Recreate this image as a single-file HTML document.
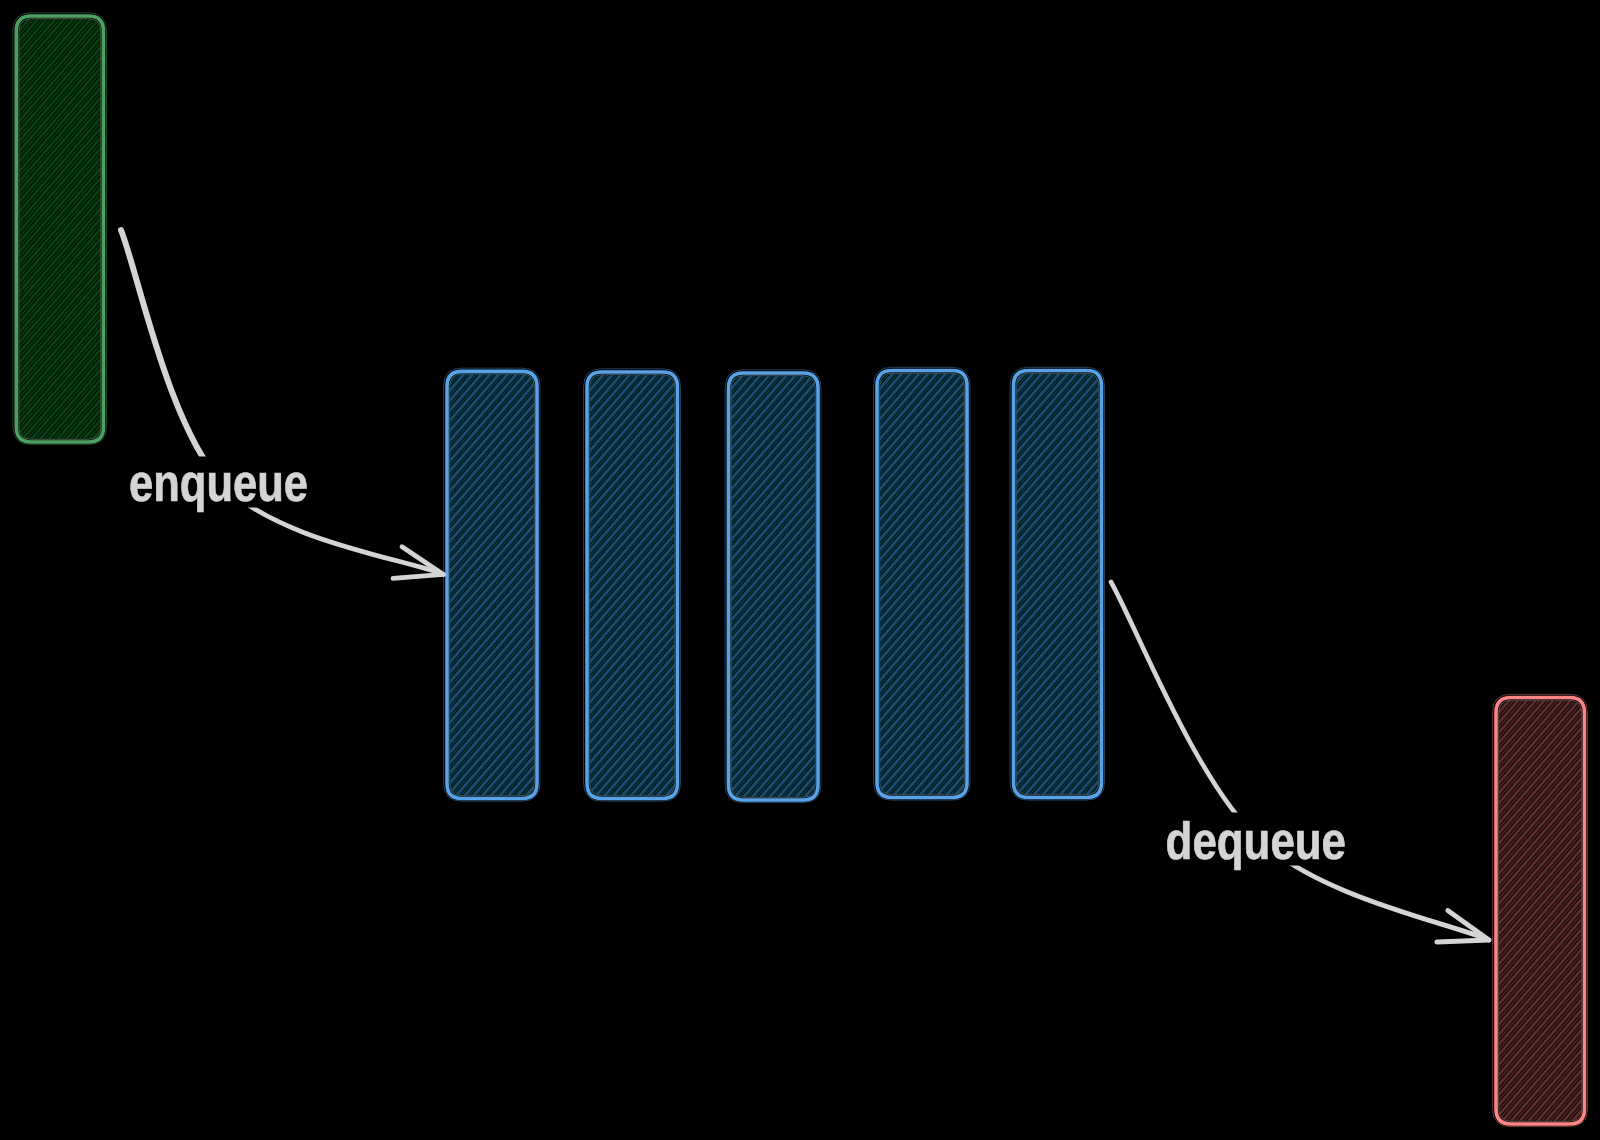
<!DOCTYPE html>
<html><head><meta charset="utf-8"><title>Queue</title>
<style>
html,body{margin:0;padding:0;background:#000;width:1600px;height:1140px;overflow:hidden;}
svg{display:block;font-family:"Liberation Sans", sans-serif;}
svg{will-change:transform;}
</style></head>
<body>
<svg width="1600" height="1140" viewBox="0 0 1600 1140">
<defs>
<pattern id="hg" width="20" height="6.6" patternUnits="userSpaceOnUse" patternTransform="rotate(-49)"><rect x="0" y="0" width="20" height="3.2" fill="#0a3e16"/><rect x="0" y="4.40" width="20" height="1.0" fill="#06700c"/></pattern>
<pattern id="hb" width="20" height="6.6" patternUnits="userSpaceOnUse" patternTransform="rotate(-49)"><rect x="0" y="0" width="20" height="3.4" fill="#1c4b6e"/><rect x="0" y="4.50" width="20" height="1.0" fill="#005f6e"/></pattern>
<pattern id="hr" width="20" height="6.6" patternUnits="userSpaceOnUse" patternTransform="rotate(-49)"><rect x="0" y="0" width="20" height="3.0" fill="#5f2d2d"/><rect x="0" y="4.20" width="20" height="1.2" fill="#6e3434"/></pattern>
</defs>
<path d="M31.3 19.2L88.5 19.2Q100.3 19.2 100.3 31.0L100.3 427.0Q100.3 438.8 88.5 438.8L31.3 438.8Q19.5 438.8 19.5 427.0L19.5 31.0Q19.5 19.2 31.3 19.2Z" fill="url(#hg)"/>
<path d="M31.3 16.0L88.5 16.0Q103.5 16.0 103.5 31.0L103.5 427.0Q103.5 442.0 88.5 442.0L31.3 442.0Q16.3 442.0 16.3 427.0L16.3 31.0Q16.3 16.0 31.3 16.0Z" fill="none" stroke="#4ea061" stroke-width="3.6"/>
<path d="M31.3 18.7L88.5 18.7Q100.8 18.7 100.8 31.0L100.8 427.0Q100.8 439.3 88.5 439.3L31.3 439.3Q19.0 439.3 19.0 427.0L19.0 31.0Q19.0 18.7 31.3 18.7Z" fill="none" stroke="#c8ffc8" stroke-width="1.0" stroke-opacity="0.35"/>
<path d="M30.9 12.8L88.5 12.8Q106.5 12.8 106.5 30.8L106.5 426.6Q106.5 444.6 88.5 444.6L30.9 444.6Q12.9 444.6 12.9 426.6L12.9 30.8Q12.9 12.8 30.9 12.8Z" fill="none" stroke="#4ea061" stroke-width="1.0" stroke-opacity="0.4"/>
<path d="M462.0 374.6L522.0 374.6Q533.8 374.6 533.8 386.4L533.8 783.5Q533.8 795.3 522.0 795.3L462.0 795.3Q450.2 795.3 450.2 783.5L450.2 386.4Q450.2 374.6 462.0 374.6Z" fill="url(#hb)"/>
<path d="M462.0 371.4L522.0 371.4Q537.0 371.4 537.0 386.4L537.0 783.5Q537.0 798.5 522.0 798.5L462.0 798.5Q447.0 798.5 447.0 783.5L447.0 386.4Q447.0 371.4 462.0 371.4Z" fill="none" stroke="#58a2e8" stroke-width="3.6"/>
<path d="M462.0 374.1L522.0 374.1Q534.3 374.1 534.3 386.4L534.3 783.5Q534.3 795.8 522.0 795.8L462.0 795.8Q449.7 795.8 449.7 783.5L449.7 386.4Q449.7 374.1 462.0 374.1Z" fill="none" stroke="#b0f0ff" stroke-width="1.0" stroke-opacity="0.35"/>
<path d="M461.6 368.2L522.0 368.2Q540.0 368.2 540.0 386.2L540.0 783.1Q540.0 801.1 522.0 801.1L461.6 801.1Q443.6 801.1 443.6 783.1L443.6 386.2Q443.6 368.2 461.6 368.2Z" fill="none" stroke="#58a2e8" stroke-width="1.0" stroke-opacity="0.4"/>
<path d="M602.0 375.2L662.5 375.2Q674.3 375.2 674.3 387.0L674.3 783.5Q674.3 795.3 662.5 795.3L602.0 795.3Q590.2 795.3 590.2 783.5L590.2 387.0Q590.2 375.2 602.0 375.2Z" fill="url(#hb)"/>
<path d="M602.0 372.0L662.5 372.0Q677.5 372.0 677.5 387.0L677.5 783.5Q677.5 798.5 662.5 798.5L602.0 798.5Q587.0 798.5 587.0 783.5L587.0 387.0Q587.0 372.0 602.0 372.0Z" fill="none" stroke="#58a2e8" stroke-width="3.6"/>
<path d="M602.0 374.7L662.5 374.7Q674.8 374.7 674.8 387.0L674.8 783.5Q674.8 795.8 662.5 795.8L602.0 795.8Q589.7 795.8 589.7 783.5L589.7 387.0Q589.7 374.7 602.0 374.7Z" fill="none" stroke="#b0f0ff" stroke-width="1.0" stroke-opacity="0.35"/>
<path d="M601.6 368.8L662.5 368.8Q680.5 368.8 680.5 386.8L680.5 783.1Q680.5 801.1 662.5 801.1L601.6 801.1Q583.6 801.1 583.6 783.1L583.6 386.8Q583.6 368.8 601.6 368.8Z" fill="none" stroke="#58a2e8" stroke-width="1.0" stroke-opacity="0.4"/>
<path d="M743.5 376.2L803.0 376.2Q814.8 376.2 814.8 388.0L814.8 785.0Q814.8 796.8 803.0 796.8L743.5 796.8Q731.7 796.8 731.7 785.0L731.7 388.0Q731.7 376.2 743.5 376.2Z" fill="url(#hb)"/>
<path d="M743.5 373.0L803.0 373.0Q818.0 373.0 818.0 388.0L818.0 785.0Q818.0 800.0 803.0 800.0L743.5 800.0Q728.5 800.0 728.5 785.0L728.5 388.0Q728.5 373.0 743.5 373.0Z" fill="none" stroke="#58a2e8" stroke-width="3.6"/>
<path d="M743.5 375.7L803.0 375.7Q815.3 375.7 815.3 388.0L815.3 785.0Q815.3 797.3 803.0 797.3L743.5 797.3Q731.2 797.3 731.2 785.0L731.2 388.0Q731.2 375.7 743.5 375.7Z" fill="none" stroke="#b0f0ff" stroke-width="1.0" stroke-opacity="0.35"/>
<path d="M743.1 369.8L803.0 369.8Q821.0 369.8 821.0 387.8L821.0 784.6Q821.0 802.6 803.0 802.6L743.1 802.6Q725.1 802.6 725.1 784.6L725.1 387.8Q725.1 369.8 743.1 369.8Z" fill="none" stroke="#58a2e8" stroke-width="1.0" stroke-opacity="0.4"/>
<path d="M892.0 373.7L952.0 373.7Q963.8 373.7 963.8 385.5L963.8 782.5Q963.8 794.3 952.0 794.3L892.0 794.3Q880.2 794.3 880.2 782.5L880.2 385.5Q880.2 373.7 892.0 373.7Z" fill="url(#hb)"/>
<path d="M892.0 370.5L952.0 370.5Q967.0 370.5 967.0 385.5L967.0 782.5Q967.0 797.5 952.0 797.5L892.0 797.5Q877.0 797.5 877.0 782.5L877.0 385.5Q877.0 370.5 892.0 370.5Z" fill="none" stroke="#58a2e8" stroke-width="3.6"/>
<path d="M892.0 373.2L952.0 373.2Q964.3 373.2 964.3 385.5L964.3 782.5Q964.3 794.8 952.0 794.8L892.0 794.8Q879.7 794.8 879.7 782.5L879.7 385.5Q879.7 373.2 892.0 373.2Z" fill="none" stroke="#b0f0ff" stroke-width="1.0" stroke-opacity="0.35"/>
<path d="M891.6 367.3L952.0 367.3Q970.0 367.3 970.0 385.3L970.0 782.1Q970.0 800.1 952.0 800.1L891.6 800.1Q873.6 800.1 873.6 782.1L873.6 385.3Q873.6 367.3 891.6 367.3Z" fill="none" stroke="#58a2e8" stroke-width="1.0" stroke-opacity="0.4"/>
<path d="M1028.5 373.7L1086.5 373.7Q1098.3 373.7 1098.3 385.5L1098.3 782.5Q1098.3 794.3 1086.5 794.3L1028.5 794.3Q1016.7 794.3 1016.7 782.5L1016.7 385.5Q1016.7 373.7 1028.5 373.7Z" fill="url(#hb)"/>
<path d="M1028.5 370.5L1086.5 370.5Q1101.5 370.5 1101.5 385.5L1101.5 782.5Q1101.5 797.5 1086.5 797.5L1028.5 797.5Q1013.5 797.5 1013.5 782.5L1013.5 385.5Q1013.5 370.5 1028.5 370.5Z" fill="none" stroke="#58a2e8" stroke-width="3.6"/>
<path d="M1028.5 373.2L1086.5 373.2Q1098.8 373.2 1098.8 385.5L1098.8 782.5Q1098.8 794.8 1086.5 794.8L1028.5 794.8Q1016.2 794.8 1016.2 782.5L1016.2 385.5Q1016.2 373.2 1028.5 373.2Z" fill="none" stroke="#b0f0ff" stroke-width="1.0" stroke-opacity="0.35"/>
<path d="M1028.1 367.3L1086.5 367.3Q1104.5 367.3 1104.5 385.3L1104.5 782.1Q1104.5 800.1 1086.5 800.1L1028.1 800.1Q1010.1 800.1 1010.1 782.1L1010.1 385.3Q1010.1 367.3 1028.1 367.3Z" fill="none" stroke="#58a2e8" stroke-width="1.0" stroke-opacity="0.4"/>
<path d="M1511.0 700.7L1569.5 700.7Q1581.3 700.7 1581.3 712.5L1581.3 1109.0Q1581.3 1120.8 1569.5 1120.8L1511.0 1120.8Q1499.2 1120.8 1499.2 1109.0L1499.2 712.5Q1499.2 700.7 1511.0 700.7Z" fill="url(#hr)"/>
<path d="M1511.0 697.5L1569.5 697.5Q1584.5 697.5 1584.5 712.5L1584.5 1109.0Q1584.5 1124.0 1569.5 1124.0L1511.0 1124.0Q1496.0 1124.0 1496.0 1109.0L1496.0 712.5Q1496.0 697.5 1511.0 697.5Z" fill="none" stroke="#fb8585" stroke-width="3.6"/>
<path d="M1511.0 700.2L1569.5 700.2Q1581.8 700.2 1581.8 712.5L1581.8 1109.0Q1581.8 1121.3 1569.5 1121.3L1511.0 1121.3Q1498.7 1121.3 1498.7 1109.0L1498.7 712.5Q1498.7 700.2 1511.0 700.2Z" fill="none" stroke="#ffd0d0" stroke-width="1.0" stroke-opacity="0.35"/>
<path d="M1510.6 694.3L1569.5 694.3Q1587.5 694.3 1587.5 712.3L1587.5 1108.6Q1587.5 1126.6 1569.5 1126.6L1510.6 1126.6Q1492.6 1126.6 1492.6 1108.6L1492.6 712.3Q1492.6 694.3 1510.6 694.3Z" fill="none" stroke="#fb8585" stroke-width="1.0" stroke-opacity="0.4"/>
<path d="M121.0 230.0C137.8 272.2 168.4 425.9 222.1 483.3" fill="none" stroke="#d4d4d6" stroke-width="6.0" stroke-linecap="round"/>
<path d="M222.1 483.3C275.8 540.7 406.5 559.2 443.4 574.4" fill="none" stroke="#d4d4d6" stroke-width="4.8" stroke-linecap="round"/>
<rect x="124" y="456.5" width="192" height="51" fill="#000"/>
<path d="M1111.0 582.0C1135.4 624.7 1194.6 778.6 1257.6 838.3" fill="none" stroke="#d4d4d6" stroke-width="4.6" stroke-linecap="round"/>
<path d="M1257.6 838.3C1320.6 898.0 1450.4 923.0 1489.0 940.0" fill="none" stroke="#d4d4d6" stroke-width="4.8" stroke-linecap="round"/>
<rect x="1160" y="812.5" width="194" height="53" fill="#000"/>
<path d="M402 546.8L443.4 574.4L393 578.3" fill="none" stroke="#d4d4d6" stroke-width="4.8" stroke-linecap="round" stroke-linejoin="round"/>
<path d="M1447.8 910.5L1489 940L1436.8 942" fill="none" stroke="#d4d4d6" stroke-width="4.8" stroke-linecap="round" stroke-linejoin="round"/>
<text transform="translate(129,500.6) scale(1,1.1309)" x="0" y="0" textLength="179" lengthAdjust="spacingAndGlyphs" font-family="Liberation Sans" font-weight="bold" font-size="46" fill="#d4d4d6" stroke="#d4d4d6" stroke-width="0.6">enqueue</text>
<text transform="translate(1165.6,858.5) scale(1,1.1309)" x="0" y="0" textLength="180.4" lengthAdjust="spacingAndGlyphs" font-family="Liberation Sans" font-weight="bold" font-size="46" fill="#d4d4d6" stroke="#d4d4d6" stroke-width="0.6">dequeue</text>
</svg>
</body></html>
